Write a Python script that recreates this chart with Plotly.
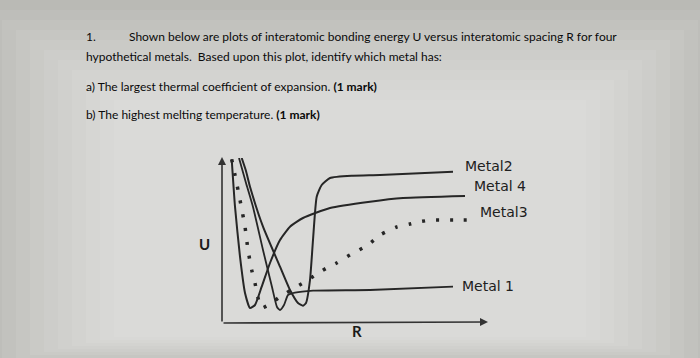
import plotly.graph_objects as go

# Interatomic spacing R / bonding energy U (axis units: origin at lower-left corner of axes)
m4_R = [9.7, 13, 18, 23, 28, 33, 39.7, 48, 58, 68, 81, 108, 148, 181, 243]
m4_U = [163.7, 116.3, 66.3, 30, 15, 18, 36.3, 60, 83, 96.3, 105, 115, 121.3, 125, 127]

m1_R = [17, 24, 31, 41, 50, 55, 58, 62, 66, 73, 91, 148, 231]
m1_U = [165, 140, 116, 73, 36, 16, 13, 18, 28, 30.3, 32.3, 33, 36.3]

m2_R = [19.7, 24, 28, 41, 58, 68, 76, 81, 84, 88, 91, 94.7, 99.7, 108, 131, 158, 231]
m2_U = [165, 152, 136.3, 96.3, 56.3, 33, 20, 17.3, 20, 43, 83, 126.3, 138, 145, 147.3, 148, 151.3]

m3_R = [9.7, 13, 18, 23, 26, 29.7, 33, 35.7, 39.7, 49.7, 58, 74.7, 86, 94.7, 104.7, 114.7, 128, 146,
        158, 174.7, 188, 198, 209.7, 219.7, 234.7, 244.7]
m3_U = [163.7, 148, 123, 96.3, 73, 53, 40, 26.3, 15, 20, 26.3, 36.3, 43, 49, 55, 60, 68, 78,
        88, 96, 99, 101.3, 103, 103, 103, 103]

labels = ["Metal2", "Metal 4", "Metal3", "Metal 1"]
label_R = [241, 250, 256, 238]
label_U = [157, 137, 111, 37]

ink = "#262626"
fig = go.Figure()
fig.add_trace(go.Scatter(x=m4_R, y=m4_U, mode="lines", line=dict(color=ink, width=2, shape="spline", smoothing=0.5)))
fig.add_trace(go.Scatter(x=m1_R, y=m1_U, mode="lines", line=dict(color=ink, width=1.8, shape="spline", smoothing=0.5)))
fig.add_trace(go.Scatter(x=m2_R, y=m2_U, mode="lines", line=dict(color=ink, width=2, shape="spline", smoothing=0.5)))
fig.add_trace(go.Scatter(x=m3_R, y=m3_U, mode="lines",
                         line=dict(color=ink, width=3.5, dash="3px,11px", shape="spline", smoothing=0.5)))

for t, r, u in zip(labels, label_R, label_U):
    fig.add_annotation(x=r, y=u, text=t, showarrow=False, xanchor="left", yanchor="middle",
                       font=dict(family="DejaVu Sans", size=14, color="#202020"))

# axes with arrows
fig.add_annotation(x=0, y=166, ax=0, ay=0, axref="x", ayref="y", xref="x", yref="y", text="",
                   showarrow=True, arrowhead=2, arrowsize=1, arrowwidth=1.6, arrowcolor="#333")
fig.add_annotation(x=266, y=1, ax=0, ay=0, axref="x", ayref="y", xref="x", yref="y", text="",
                   showarrow=True, arrowhead=2, arrowsize=1, arrowwidth=1.6, arrowcolor="#333")

W, H = 700, 358
L, R_, T, B = 222, 212, 158, 35
PW, PH = W - L - R_, H - T - B

def fx(x):
    return (x - L) / PW

def fy(y):
    return (H - B - y) / PH

# photo-like vignette background (page pixel rectangles)
shapes = []
for i in range(12):
    x0, x1 = -40 + i * 14, 740 - i * 14
    y0, y1 = 370 - i * 3, -10 + i * 10
    shapes.append(dict(type="rect", xref="paper", yref="paper", layer="below",
                       x0=fx(x0), x1=fx(x1), y0=fy(y0), y1=fy(y1),
                       fillcolor="white", opacity=0.07, line=dict(width=0)))

txtfont = dict(family="Lato", size=12, color="#0a0a0a")
texts = [
    (84, 37, "1."),
    (127, 37, "Shown below are plots of interatomic bonding energy U versus interatomic spacing R for four"),
    (84, 56, "hypothetical metals.  Based upon this plot, identify which metal has:"),
    (84, 86, "a) The largest thermal coefficient of expansion. <b>(1 mark)</b>"),
    (84, 114, "b) The highest melting temperature. <b>(1 mark)</b>"),
]
for x, y, t in texts:
    fig.add_annotation(xref="paper", yref="paper", x=fx(x), y=fy(y), text=t,
                       showarrow=False, xanchor="left", yanchor="middle", font=txtfont)

fig.add_annotation(xref="paper", yref="paper", x=fx(197), y=fy(244), text="<b>U</b>",
                   showarrow=False, font=dict(family="Lato", size=15, color="#1a1a1a"))
fig.add_annotation(xref="paper", yref="paper", x=fx(357), y=fy(342), text="<b>R</b>",
                   showarrow=False, font=dict(family="Lato", size=15, color="#1a1a1a"))

fig.update_layout(
    width=W, height=H, margin=dict(l=L, r=R_, t=T, b=B),
    paper_bgcolor="#b0b0aa", plot_bgcolor="rgba(0,0,0,0)", showlegend=False,
    xaxis=dict(visible=False, range=[0, 266]),
    yaxis=dict(visible=False, range=[0, 165]),
    shapes=shapes,
)
fig.write_html("out.html")
